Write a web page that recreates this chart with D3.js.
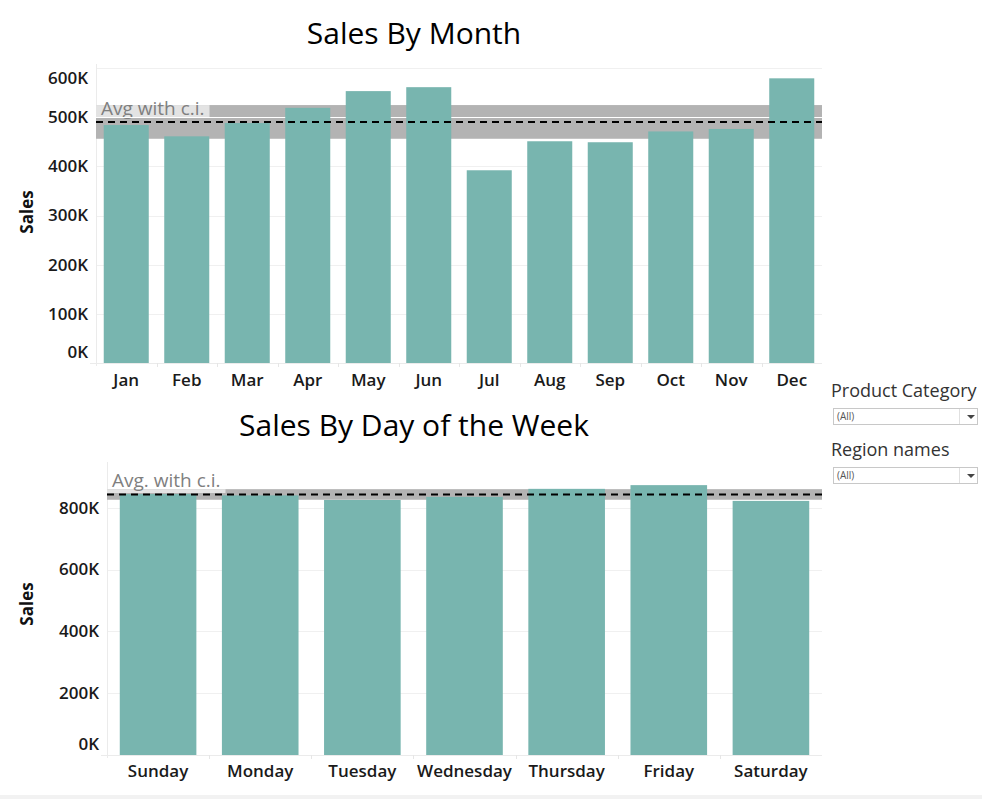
<!DOCTYPE html>
<html>
<head>
<meta charset="utf-8">
<script src="https://cdn.jsdelivr.net/npm/d3@7"></script>
<style>
  html, body { margin: 0; padding: 0; background: #fff; }
  svg { display: block; }
  text { font-family: "Open Sans", "Noto Sans", sans-serif; }
</style>
</head>
<body>
<svg id="chart" width="982" height="799"></svg>
<script>
// ---------- DATA ----------
const months = ["Jan","Feb","Mar","Apr","May","Jun","Jul","Aug","Sep","Oct","Nov","Dec"];
const monthSales = [484000, 461000, 488000, 519000, 553000, 561000, 392000, 451000, 449000, 471000, 476000, 579000];
const monthTicks = [0, 100000, 200000, 300000, 400000, 500000, 600000];

const days = ["Sunday","Monday","Tuesday","Wednesday","Thursday","Friday","Saturday"];
const daySales = [844000, 840000, 825000, 835000, 861000, 873000, 822000];
const dayTicks = [0, 200000, 400000, 600000, 800000];

const tCrit = {11: 2.201, 6: 2.447}; // t-distribution 97.5% quantiles by degrees of freedom

const titles = ["Sales By Month", "Sales By Day of the Week"];
const refLabels = ["Avg with c.i.", "Avg. with c.i."];
const filterNames = ["Product Category", "Region names"];
const filterValues = ["(All)", "(All)"];

// ---------- DRAW ----------
const svg = d3.select("#chart");
const BAR = "#78b5af", BAND = "#b3b3b3", GRID = "#f0f0f0";
const fmtK = v => (v / 1000) + "K";

function ci(vals) {
  const n = vals.length, m = d3.mean(vals), sd = d3.deviation(vals);
  const h = tCrit[n - 1] * sd / Math.sqrt(n);
  return {m, lo: m - h, hi: m + h};
}

function panel(cfg) {
  const g = svg.append("g");
  const x = d3.scaleBand().domain(cfg.cats).range([cfg.x0, cfg.x1])
    .paddingInner(cfg.pad).paddingOuter(cfg.pad / 2);
  const y = d3.scaleLinear().domain([0, cfg.tickMax]).range([cfg.yBase, cfg.yTickTop]);

  // title
  g.append("text").attr("x", cfg.titleX).attr("y", cfg.titleY)
    .attr("text-anchor", "middle").attr("font-size", 30).attr("font-weight", 500).attr("fill", "#000")
    .text(cfg.title);

  // gridlines
  g.selectAll(".grid").data(cfg.ticks.filter(t => t > 0)).join("line")
    .attr("x1", cfg.x0).attr("x2", cfg.x1)
    .attr("y1", d => Math.round(y(d)) + 0.5).attr("y2", d => Math.round(y(d)) + 0.5)
    .attr("stroke", GRID).attr("stroke-width", 1);
  // axis lines
  g.append("line").attr("x1", cfg.x0 + 0.5).attr("x2", cfg.x0 + 0.5)
    .attr("y1", cfg.plotTop).attr("y2", cfg.yBase + 3).attr("stroke", "#ebebeb");
  g.append("line").attr("x1", cfg.x0 - 6).attr("x2", cfg.x1)
    .attr("y1", cfg.yBase + 0.5).attr("y2", cfg.yBase + 0.5).attr("stroke", "#ebebeb");
  // category dividers
  g.selectAll(".div").data(cfg.cats.slice(1)).join("line")
    .attr("x1", d => Math.round(x(d) - x.step() * cfg.pad / 2) + 0.5)
    .attr("x2", d => Math.round(x(d) - x.step() * cfg.pad / 2) + 0.5)
    .attr("y1", cfg.yBase).attr("y2", cfg.yBase + 4).attr("stroke", "#e6e6e6");

  // y tick labels
  g.selectAll(".yl").data(cfg.ticks).join("text")
    .attr("x", cfg.x0 - 8)
    .attr("y", d => {
      let yy = y(d);
      if (d === 0) yy -= 11;
      if (d === cfg.tickMax && cfg.shiftTop) yy += 10;
      return yy;
    })
    .attr("dy", "0.35em").attr("text-anchor", "end")
    .attr("font-size", 17).attr("font-weight", 600).attr("fill", "#1a1a1a")
    .text(fmtK);

  // y axis title
  g.append("text")
    .attr("transform", `translate(${cfg.ytX},${cfg.ytY}) rotate(-90)`)
    .attr("text-anchor", "middle").attr("dy", "0.35em")
    .attr("font-size", 17).attr("font-weight", 700).attr("fill", "#111")
    .text("Sales");

  // reference band
  const s = ci(cfg.vals);
  g.append("rect").attr("x", cfg.x0).attr("width", cfg.x1 - cfg.x0)
    .attr("y", y(s.hi)).attr("height", y(s.lo) - y(s.hi)).attr("fill", BAND);
  // label background
  const bg = g.append("rect")
    .attr("x", cfg.x0)
    .attr("y", y(s.hi)).attr("height", cfg.lblBgBottom - y(s.hi))
    .attr("fill", "#e3e3e3");
  const lbl = g.append("text").attr("x", cfg.x0 + 5).attr("y", cfg.lblY)
    .attr("font-size", 19).attr("fill", "#7f7f7f").text(cfg.refLabel);
  bg.attr("width", lbl.node().getComputedTextLength() + 10);
  if (cfg.whiteLine) {
    g.append("line").attr("x1", cfg.x0).attr("x2", cfg.x1)
      .attr("y1", cfg.lblBgBottom + 0.5).attr("y2", cfg.lblBgBottom + 0.5)
      .attr("stroke", "#ffffff").attr("stroke-width", 1);
  }

  // bars
  g.selectAll(".bar").data(cfg.cats).join("rect")
    .attr("x", d => x(d)).attr("width", x.bandwidth())
    .attr("y", (d, i) => y(cfg.vals[i]))
    .attr("height", (d, i) => y(0) - y(cfg.vals[i]))
    .attr("fill", BAR);

  // average dashed line
  g.append("line").attr("x1", cfg.x0).attr("x2", cfg.x1)
    .attr("y1", y(s.m)).attr("y2", y(s.m))
    .attr("stroke", "#000").attr("stroke-width", 2).attr("stroke-dasharray", "7,5");

  // x labels
  g.selectAll(".xl").data(cfg.cats).join("text")
    .attr("x", d => x(d) + x.bandwidth() / 2).attr("y", cfg.xlY)
    .attr("text-anchor", "middle").attr("font-size", 17).attr("font-weight", 600)
    .attr("fill", "#1a1a1a").text(d => d);
}

panel({
  cats: months, vals: monthSales, ticks: monthTicks, tickMax: 600000,
  x0: 96, x1: 822, yBase: 363, yTickTop: 68, plotTop: 64, pad: 0.256,
  title: titles[0], titleX: 414, titleY: 44,
  refLabel: refLabels[0], lblY: 115, lblBgBottom: 117, whiteLine: true,
  xlY: 386, ytX: 27, ytY: 212, shiftTop: true
});

panel({
  cats: days, vals: daySales, ticks: dayTicks, tickMax: 800000,
  x0: 107, x1: 822, yBase: 755, yTickTop: 507.7, plotTop: 462, pad: 0.25,
  title: titles[1], titleX: 414, titleY: 436,
  refLabel: refLabels[1], lblY: 487, lblBgBottom: 493, whiteLine: false,
  xlY: 777, ytX: 27, ytY: 604, shiftTop: false
});

// ---------- FILTERS ----------
const fy = [397, 456];
const fg = svg.append("g");
filterNames.forEach((name, i) => {
  fg.append("text").attr("x", 831).attr("y", fy[i])
    .attr("font-size", 18).attr("font-weight", 500).attr("fill", "#333").text(name);
  const by = fy[i] + 11;
  fg.append("rect").attr("x", 833.5).attr("y", by + 0.5).attr("width", 144).attr("height", 16)
    .attr("fill", "#fff").attr("stroke", "#c8c8c8");
  fg.append("line").attr("x1", 959.5).attr("x2", 959.5).attr("y1", by + 1).attr("y2", by + 16)
    .attr("stroke", "#e0e0e0");
  fg.append("text").attr("x", 837).attr("y", by + 12)
    .attr("font-size", 10).attr("fill", "#555").text(filterValues[i]);
  fg.append("path")
    .attr("d", `M${967},${by + 7} L${975},${by + 7} L${971},${by + 11} Z`)
    .attr("fill", "#444");
});

// bottom strip
svg.append("rect").attr("x", 0).attr("y", 795).attr("width", 982).attr("height", 4).attr("fill", "#f2f2f2");
</script>
</body>
</html>
